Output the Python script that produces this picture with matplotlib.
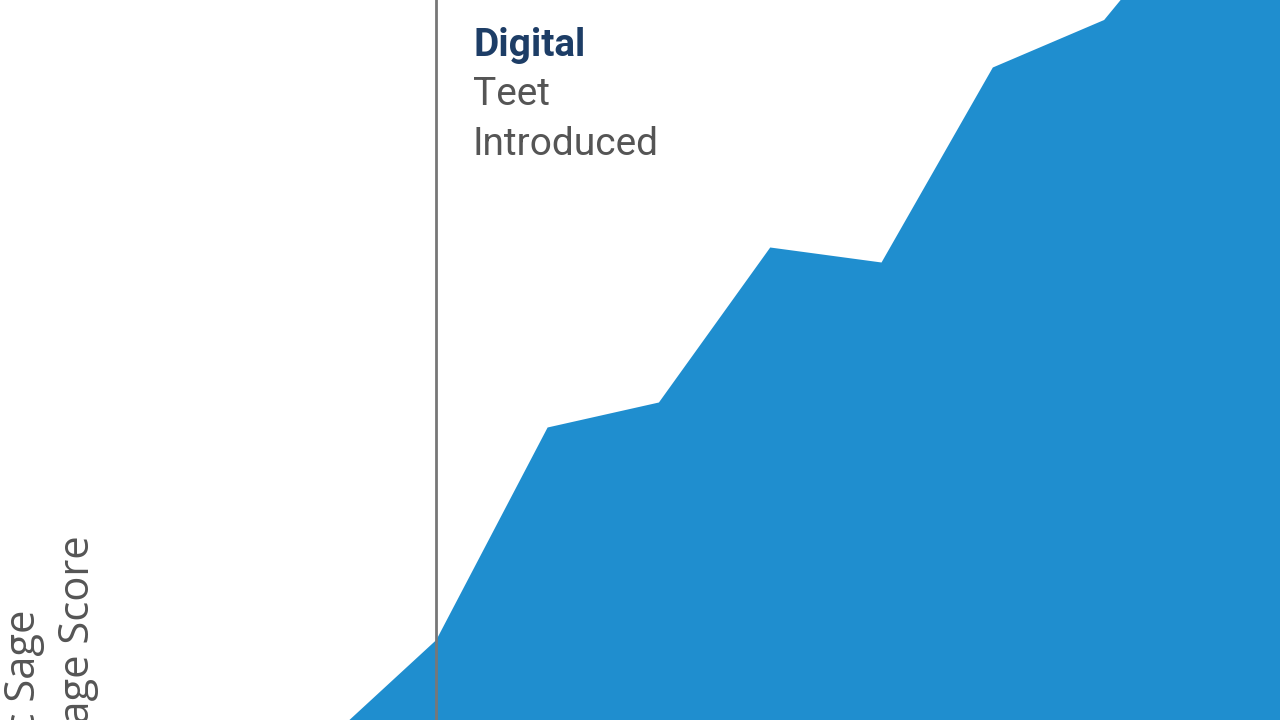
"""Digital tech adoption vs average score - area chart (cropped view)."""
import matplotlib
matplotlib.use('Agg')
import matplotlib.pyplot as plt

FILL = '#1f8ecf'
NAVY = '#1d3d66'
GRAY = '#555555'
VLINE = '#777777'

years = [2016, 2017, 2018, 2019, 2020, 2021, 2022, 2023, 2024, 2025]
scores = [54.1, 58.2, 66.7, 67.7, 73.9, 73.3, 81.1, 83.0, 88.4, 92.0]
tech_year = 2017
note_lines = ["Digital", "Teet", "Introduced"]
ylabel_lines = ["Basic Sage", "Average Score"]

fig = plt.figure(figsize=(12.8, 7.2), dpi=100)
ax = fig.add_axes([0, 0, 1, 1])
ax.fill_between(years, scores, 0, color=FILL, linewidth=0, zorder=2)
ax.axvline(tech_year, color=VLINE, linewidth=2, zorder=3)
ax.set_xlim(2013.08, 2024.58)
ax.set_ylim(55, 83.8)
ax.axis('off')

# annotation next to the vertical line
fig.text(473 / 1280, 1 - 56 / 720, note_lines[0], fontsize=28, fontweight='bold',
         color=NAVY, family='Roboto', va='baseline', ha='left')
fig.text(473 / 1280, 1 - 105 / 720, note_lines[1], fontsize=28,
         color=GRAY, family='Roboto', va='baseline', ha='left')
fig.text(473 / 1280, 1 - 155 / 720, note_lines[2], fontsize=28,
         color=GRAY, family='Roboto', va='baseline', ha='left')

# y label, mostly cut off by the bottom edge
fig.text(35 / 1280, 1 - 610 / 720, ylabel_lines[0], fontsize=30, color=GRAY,
         family='Open Sans', rotation=90, rotation_mode='anchor',
         ha='right', va='baseline')
fig.text(89 / 1280, 1 - 535 / 720, ylabel_lines[1], fontsize=30, color=GRAY,
         family='Open Sans', rotation=90, rotation_mode='anchor',
         ha='right', va='baseline')

fig.savefig('out.png', dpi=100)
